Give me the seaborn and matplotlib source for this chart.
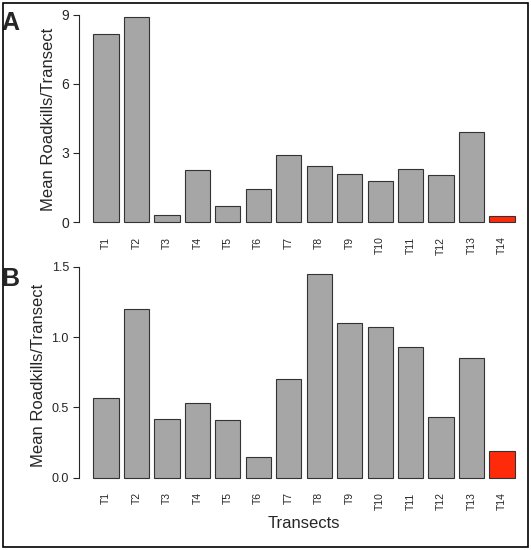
import matplotlib
matplotlib.use('Agg')
import matplotlib.pyplot as plt
import seaborn as sns
import pandas as pd
from matplotlib.patches import Rectangle

transects = [f'T{i}' for i in range(1, 15)]
mean_a = [8.15, 8.9, 0.3, 2.25, 0.7, 1.45, 2.9, 2.45, 2.1, 1.8, 2.3, 2.05, 3.9, 0.25]
mean_b = [0.57, 1.2, 0.42, 0.53, 0.41, 0.15, 0.70, 1.45, 1.1, 1.07, 0.93, 0.43, 0.85, 0.19]
colors = ['#a6a6a6'] * 13 + ['#ff2a0a']

sns.set_style('white')
plt.rcParams['font.family'] = ['Liberation Sans', 'DejaVu Sans']

fig = plt.figure(figsize=(5.31, 5.5), dpi=100)
ax_a = fig.add_axes([0.165, 0.585, 0.815, 0.395])
ax_b = fig.add_axes([0.165, 0.12, 0.815, 0.395])
fig.patches.append(Rectangle((0.005, 0.005), 0.99, 0.99, transform=fig.transFigure,
                             fill=False, edgecolor='black', linewidth=1.2))


def draw(ax, vals, ticks, letter, xlabel):
    df = pd.DataFrame({'transect': transects, 'value': vals})
    sns.barplot(data=df, x='transect', y='value', hue='transect', palette=colors,
                saturation=1, legend=False, width=0.83, edgecolor='#333333',
                linewidth=0.8, ax=ax)
    ax.set_ylim(min(ticks) - (max(ticks) * 0.03), max(vals) * 1.03)
    ax.set_xlim(-0.6, 13.6)
    ax.set_yticks(ticks)
    ax.set_yticklabels([f'{t:g}' for t in ticks], rotation=90, va='center', fontsize=8.5)
    ax.tick_params(axis='y', left=True, length=4, width=0.8)
    ax.tick_params(axis='x', labelsize=7.5, labelrotation=90, length=0, pad=6)
    for s in ['top', 'right', 'bottom']:
        ax.spines[s].set_visible(False)
    ax.spines['left'].set_bounds(min(ticks), max(ticks))
    ax.spines['left'].set_linewidth(0.8)
    ax.spines['left'].set_position(('outward', 6))
    ax.set_ylabel('Mean Roadkills/Transect', fontsize=12)
    ax.set_xlabel(xlabel, fontsize=12)
    ax.text(-0.2, 1.0, letter, transform=ax.transAxes, fontsize=18, fontweight='bold',
            va='top')


draw(ax_a, mean_a, [0, 3, 6, 9], 'A', '')
draw(ax_b, mean_b, [0.0, 0.5, 1.0, 1.5], 'B', 'Transects')
ax_b.set_yticklabels(['0.0', '0.5', '1.0', '1.5'], rotation=0, fontsize=9)

fig.savefig('out.png', dpi=100)
